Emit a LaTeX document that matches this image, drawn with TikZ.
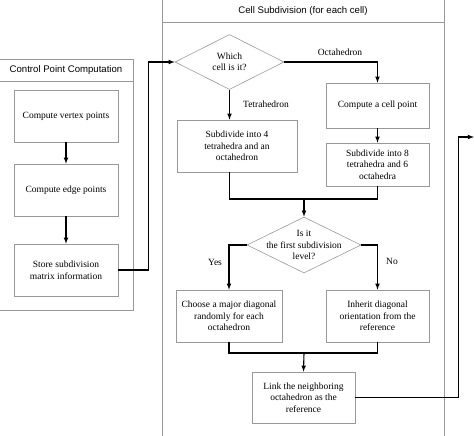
\documentclass[tikz,border=0pt]{standalone}
\usepackage{fontspec}
\setmainfont{Liberation Serif}
\setsansfont{Liberation Sans}
\usetikzlibrary{shapes.geometric}

\tikzstyle{procbox}=[draw=gray!80, line width=0.6pt, align=center, inner sep=2pt, font=\fontsize{9.5}{11.5}\selectfont]
\tikzstyle{decision}=[diamond, draw=gray!80, line width=0.6pt, inner sep=0pt]
\tikzstyle{panel}=[draw=gray!80, line width=0.7pt]
\tikzstyle{title}=[font=\sffamily\fontsize{9.6}{11}\selectfont]
\tikzstyle{lbl}=[font=\fontsize{9.5}{11.5}\selectfont]
\tikzstyle{flow}=[line width=1.1pt, -latex]
\tikzstyle{seg}=[line width=1.1pt]

\begin{document}
\begin{tikzpicture}[x=1pt, y=-1pt]
      \useasboundingbox (0,0) rectangle (474,436);
      \clip (0,0) rectangle (474,436);

      % panels
      \draw[panel] (-5,59) rectangle (133,310);
      \draw[panel] (-5,81) -- (133,81);
      \draw[panel] (162,-5) -- (162,441);
      \draw[panel] (444,-5) -- (444,441);
      \draw[panel] (162,22) -- (444,22);
      \node[title] (tctrl) at (66,70) {Control Point Computation};
      \node[title] (tcell) at (303,11) {Cell Subdivision (for each cell)};

      % control points
      \node[procbox, minimum width=104pt, minimum height=52pt] (vtx) at (66,116) {Compute vertex points};
      \node[procbox, minimum width=104pt, minimum height=52pt] (edg) at (66,190) {Compute edge points};
      \node[procbox, minimum width=104pt, minimum height=52pt] (store) at (66,270) {Store subdivision\\matrix information};
      \draw[flow] (vtx) to (edg);
      \draw[flow] (edg) to (store);

      % cell subdivision
      \node[decision, minimum width=109pt, minimum height=55pt,
            label={[lbl, align=center]center:Which\\cell is it?}] (d1) at (229.5,62) {};
      \node[procbox, minimum width=120pt, minimum height=52pt] (tet) at (237,146) {Subdivide into 4\\tetrahedra and an\\octahedron};
      \node[procbox, minimum width=103pt, minimum height=45pt] (cellpt) at (377.5,105.5) {Compute a cell point};
      \node[procbox, minimum width=103pt, minimum height=43pt] (oct8) at (377.5,164.5) {Subdivide into 8\\tetrahedra and 6\\octahedra};
      \node[decision, minimum width=114pt, minimum height=56pt,
            label={[lbl, align=center]center:Is it\\the first subdivision\\level?}] (d2) at (304,245) {};
      \node[procbox, minimum width=106pt, minimum height=52pt] (major) at (229,316) {Choose a major diagonal\\randomly for each\\octahedron};
      \node[procbox, minimum width=103pt, minimum height=52pt] (inherit) at (377.5,316) {Inherit diagonal\\orientation from the\\reference};
      \node[procbox, minimum width=103pt, minimum height=51pt] (link) at (303.5,397.5) {Link the neighboring\\octahedron as the\\reference};

      \node[lbl] (loct) at (340,52) {Octahedron};
      \node[lbl] (ltet) at (266,104) {Tetrahedron};
      \node[lbl] (lyes) at (215,262) {Yes};
      \node[lbl] (lno) at (392,261) {No};

      \coordinate (m1) at (304,199);
      \coordinate (m2) at (304,353);
      \coordinate (out) at (474,137);

      \draw[flow] (store.east) -- ++(30,0) |- (d1.west);
      \draw[flow] (d1.south) -- (d1.south |- tet.north);
      \draw[flow] (d1.east) -| (cellpt.north);
      \draw[flow] (cellpt) to (oct8);
      \draw[seg] (d1.south |- tet.south) |- (m1) -| (oct8.south);
      \draw[flow] (m1) -- (d2.north);
      \draw[flow] (d2.west) -| (major.north);
      \draw[flow] (d2.east) -| (inherit.north);
      \draw[seg] (major.south) |- (m2) -| (inherit.south);
      \draw[flow] (m2) -- (link.north);
      \draw[flow] (link.east) -- ++(103,0) |- (out);
\end{tikzpicture}
\end{document}
